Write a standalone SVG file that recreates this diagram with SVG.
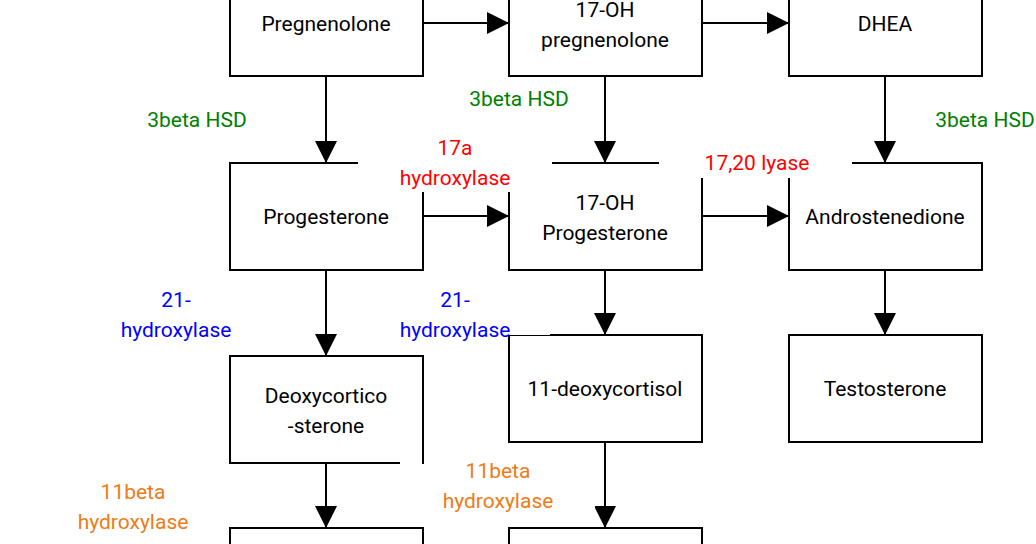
<svg xmlns="http://www.w3.org/2000/svg" width="1036" height="544" viewBox="0 0 1036 544">
<style>
.b{fill:#fff;stroke:#000;stroke-width:2}
.t{font-family:Roboto,"Liberation Sans",sans-serif;font-size:21px;text-anchor:middle}
.bg{fill:#fff}
.c{stroke:#000;stroke-width:2;fill:none;marker-end:url(#a)}
.g{fill:#008000}.r{fill:#ff0000}.u{fill:#0000ff}.o{fill:#ee7b17}
</style>
<defs><marker id="a" markerUnits="userSpaceOnUse" markerWidth="24" markerHeight="24" refX="22" refY="11" orient="auto"><path d="M0,0L22,11L0,22Z" fill="#000"/></marker></defs>
<g id="connectors">
<path class="c" d="M423,23H509"/><path class="c" d="M702,23H789"/>
<path class="c" d="M423,216H509"/><path class="c" d="M702,216H789"/>
<path class="c" d="M326,76V163"/><path class="c" d="M326,270V356"/><path class="c" d="M326,463V528"/>
<path class="c" d="M605,76V163"/><path class="c" d="M605,270V335"/><path class="c" d="M605,442V528"/>
<path class="c" d="M885,76V163"/><path class="c" d="M885,270V335"/>
</g>
<g id="pregnenolone"><rect class="b" x="230" y="-31" width="193" height="107"/><text class="t" x="326" y="31">Pregnenolone</text></g>
<g id="oh-preg"><rect class="b" x="509" y="-31" width="193" height="107"/><text class="t" x="605" y="17">17-OH</text><text class="t" x="605" y="47">pregnenolone</text></g>
<g id="dhea"><rect class="b" x="789" y="-31" width="193" height="107"/><text class="t" x="885" y="31">DHEA</text></g>
<g id="progesterone"><rect class="b" x="230" y="163" width="193" height="107"/><text class="t" x="326" y="224">Progesterone</text></g>
<g id="oh-prog"><rect class="b" x="509" y="163" width="193" height="107"/><text class="t" x="605" y="210">17-OH</text><text class="t" x="605" y="240">Progesterone</text></g>
<g id="andro"><rect class="b" x="789" y="163" width="193" height="107"/><text class="t" x="885" y="224">Androstenedione</text></g>
<g id="doc"><rect class="b" x="230" y="356" width="193" height="107"/><text class="t" x="326" y="403">Deoxycortico</text><text class="t" x="326" y="433">-sterone</text></g>
<g id="deoxycortisol"><rect class="b" x="509" y="335" width="193" height="107"/><text class="t" x="605" y="396">11-deoxycortisol</text></g>
<g id="testosterone"><rect class="b" x="789" y="335" width="193" height="107"/><text class="t" x="885" y="396">Testosterone</text></g>
<g id="b1"><rect class="b" x="230" y="528" width="193" height="40"/></g>
<g id="b2"><rect class="b" x="509" y="528" width="193" height="40"/></g>
<g id="labels">
<text class="t g" x="197" y="127">3beta HSD</text>
<text class="t g" x="519" y="106">3beta HSD</text>
<text class="t g" x="985" y="127">3beta HSD</text>
<rect class="bg" x="358" y="132" width="194" height="60"/>
<text class="t r" x="455" y="155">17a</text><text class="t r" x="455" y="185">hydroxylase</text>
<rect class="bg" x="659" y="148" width="193" height="30"/>
<text class="t r" x="757" y="170">17,20 lyase</text>
<text class="t u" x="176" y="307">21-</text><text class="t u" x="176" y="337">hydroxylase</text>
<rect class="bg" x="358" y="285" width="192" height="50"/>
<text class="t u" x="455" y="307">21-</text><text class="t u" x="455" y="337">hydroxylase</text>
<text class="t o" x="133" y="499">11beta</text><text class="t o" x="133" y="529">hydroxylase</text>
<rect class="bg" x="400" y="464" width="195" height="50"/>
<rect class="bg" x="400" y="462" width="22" height="3"/>
<text class="t o" x="498" y="478">11beta</text><text class="t o" x="498" y="508">hydroxylase</text>
</g>
</svg>
